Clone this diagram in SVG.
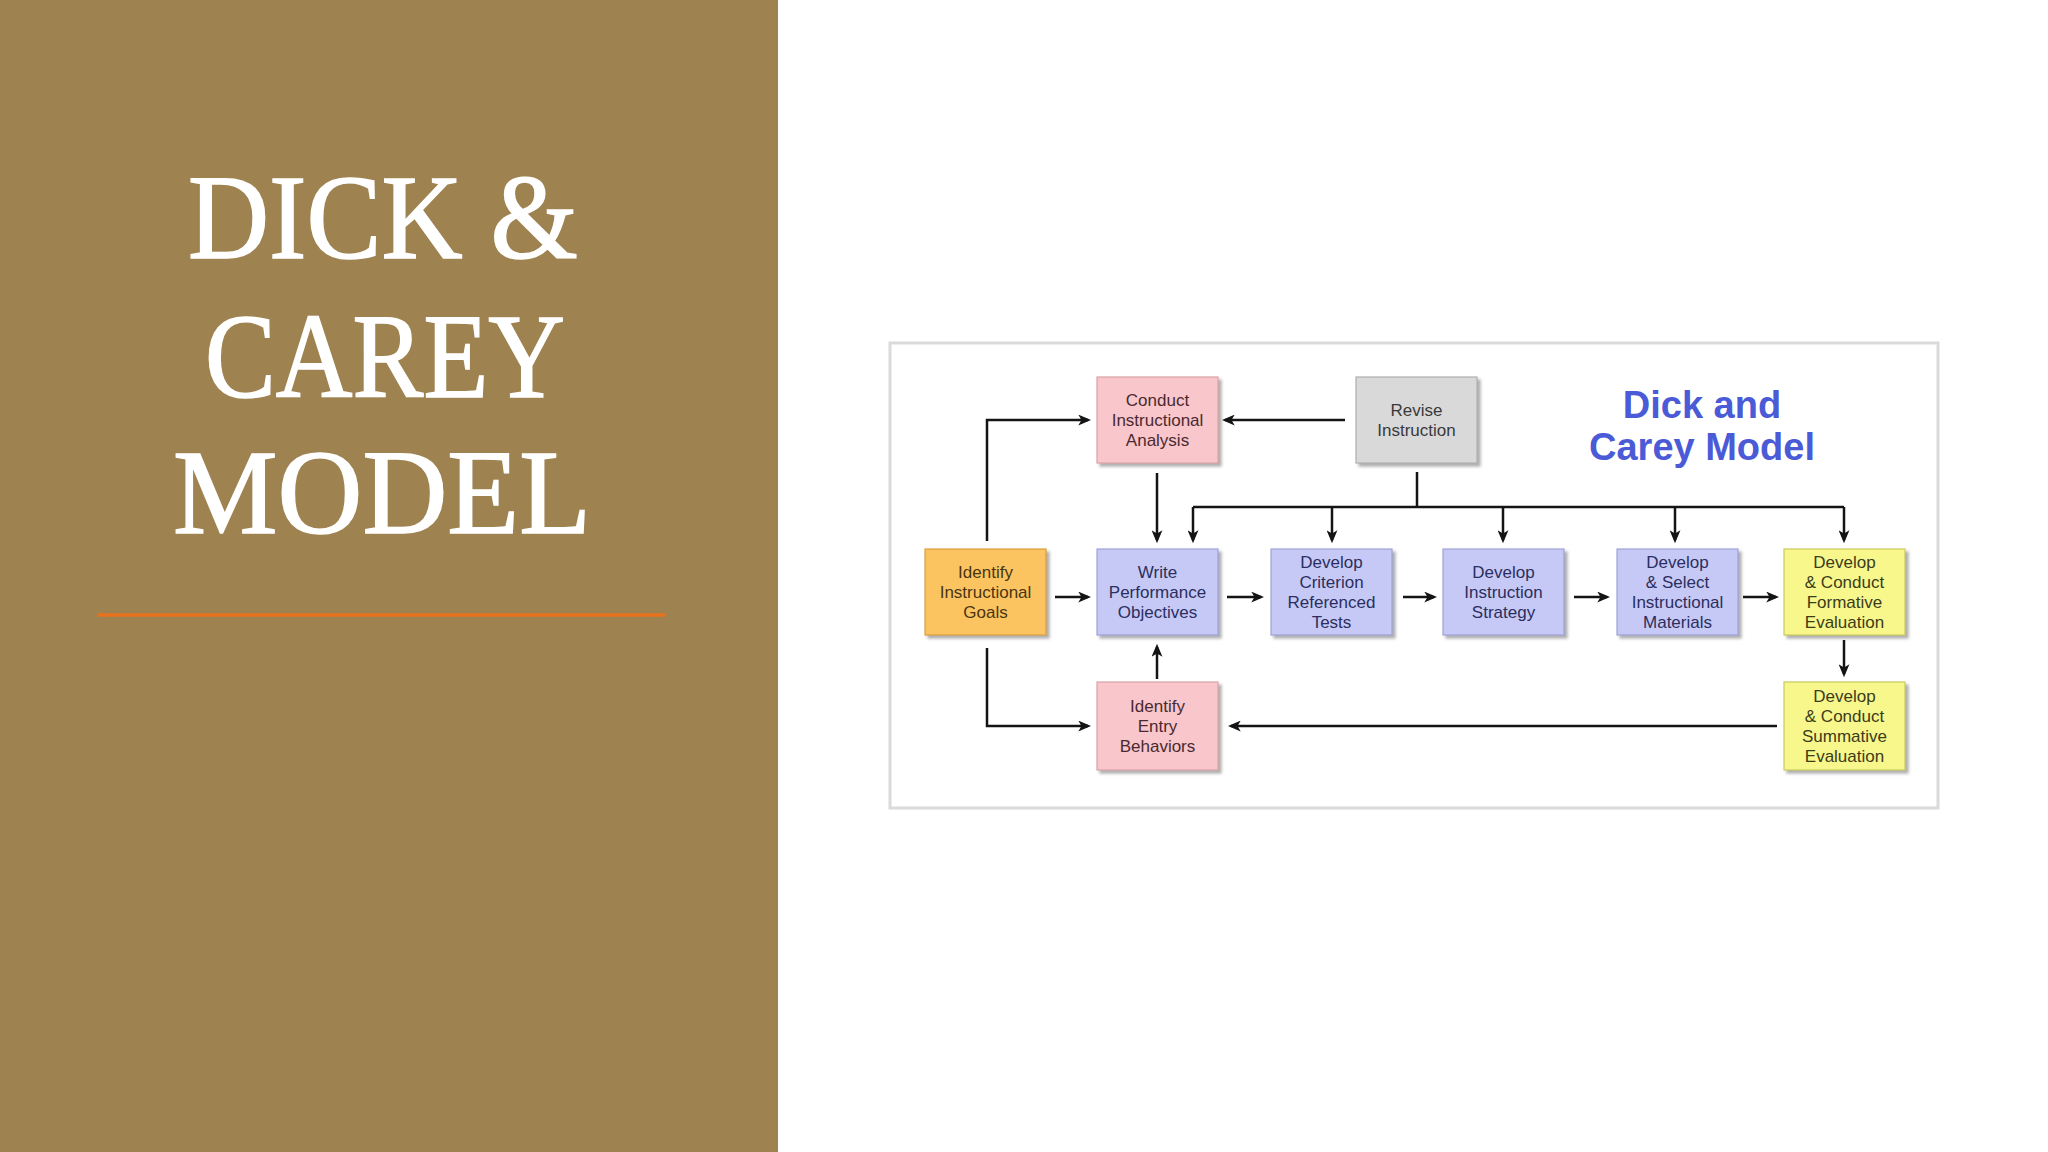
<svg xmlns="http://www.w3.org/2000/svg" width="2048" height="1152" viewBox="0 0 2048 1152">
<defs>
<style>
.title{font-family:"Liberation Serif","DejaVu Serif",serif;font-size:120px;fill:#ffffff;stroke:#ffffff;stroke-width:1.6;text-anchor:middle}
.lbl{font-family:"Liberation Sans",Arial,sans-serif;font-size:17px;text-anchor:middle}
.hd{font-family:"Liberation Sans",Arial,sans-serif;font-size:38px;font-weight:bold;fill:#4B5AD6;text-anchor:middle}
.box{stroke-width:1.2;filter:url(#sh)}
.pink{fill:#F8C6CB;stroke:#D9A3A9}
.pink-t{fill:#4A2A30}
.blue{fill:#C6C9F6;stroke:#9EA2D6}
.blue-t{fill:#2B2E5E}
.orange{fill:#FBC460;stroke:#D8A03E}
.orange-t{fill:#4A3512}
.yellow{fill:#F7F78C;stroke:#C9C95E}
.yellow-t{fill:#3C3C18}
.gray{fill:#D9D9D9;stroke:#AFAFAF}
.gray-t{fill:#3A3A3A}
.conn path{fill:none;stroke:#141414;stroke-width:2.5}
.arr{marker-end:url(#ah)}
</style>
<filter id="sh" x="-10%" y="-10%" width="130%" height="130%">
<feDropShadow dx="3" dy="3" stdDeviation="1.5" flood-color="#777777" flood-opacity="0.6"/>
</filter>
<marker id="ah" viewBox="0 0 12 10" markerWidth="13" markerHeight="11" refX="9" refY="5" orient="auto" markerUnits="userSpaceOnUse">
<path d="M0,0 L12,5 L0,10 L3,5 Z" fill="#141414"/>
</marker>
</defs>
<rect x="0" y="0" width="2048" height="1152" fill="#ffffff"/>
<g id="left-panel">
<rect x="0" y="0" width="778" height="1152" fill="#9E8250"/>
<text class="title" x="383" y="258" textLength="390" lengthAdjust="spacingAndGlyphs">DICK &amp;</text>
<text class="title" x="385" y="397" textLength="360" lengthAdjust="spacingAndGlyphs">CAREY</text>
<text class="title" x="382" y="533" textLength="418" lengthAdjust="spacingAndGlyphs">MODEL</text>
<line x1="98" y1="615" x2="666" y2="615" stroke="#E8721E" stroke-width="3.5"/>
</g>
<g id="frame">
<rect x="890" y="343" width="1048" height="465" fill="#ffffff" stroke="#DADADA" stroke-width="3"/>
</g>
<g id="heading">
<text class="hd" x="1702" y="418">Dick and</text>
<text class="hd" x="1702" y="460">Carey Model</text>
</g>
<g class="conn" id="connectors">
<path class="arr" d="M1345,420 L1225,420"/>
<path class="arr" d="M987,541 L987,420 L1088,420"/>
<path class="arr" d="M987,648 L987,726 L1088,726"/>
<path class="arr" d="M1157,473 L1157,540"/>
<path d="M1417,472 L1417,507"/>
<path d="M1193,507 L1844,507"/>
<path class="arr" d="M1193,507 L1193,540"/>
<path class="arr" d="M1332,507 L1332,540"/>
<path class="arr" d="M1503,507 L1503,540"/>
<path class="arr" d="M1675,507 L1675,540"/>
<path class="arr" d="M1844,507 L1844,540"/>
<path class="arr" d="M1055,597 L1088,597"/>
<path class="arr" d="M1227,597 L1261,597"/>
<path class="arr" d="M1403,597 L1434,597"/>
<path class="arr" d="M1574,597 L1607,597"/>
<path class="arr" d="M1743,597 L1776,597"/>
<path class="arr" d="M1844,640 L1844,674"/>
<path class="arr" d="M1157,679 L1157,647"/>
<path class="arr" d="M1777,726 L1231,726"/>
</g>
<g id="conduct">
<rect class="box pink" x="1097" y="377" width="121" height="86"/>
<text class="lbl pink-t" x="1157.5" y="406">Conduct</text>
<text class="lbl pink-t" x="1157.5" y="426">Instructional</text>
<text class="lbl pink-t" x="1157.5" y="446">Analysis</text>
</g>
<g id="revise">
<rect class="box gray" x="1356" y="377" width="121" height="86"/>
<text class="lbl gray-t" x="1416.5" y="416">Revise</text>
<text class="lbl gray-t" x="1416.5" y="436">Instruction</text>
</g>
<g id="goals">
<rect class="box orange" x="925" y="549" width="121" height="86"/>
<text class="lbl orange-t" x="985.5" y="578">Identify</text>
<text class="lbl orange-t" x="985.5" y="598">Instructional</text>
<text class="lbl orange-t" x="985.5" y="618">Goals</text>
</g>
<g id="write">
<rect class="box blue" x="1097" y="549" width="121" height="86"/>
<text class="lbl blue-t" x="1157.5" y="578">Write</text>
<text class="lbl blue-t" x="1157.5" y="598">Performance</text>
<text class="lbl blue-t" x="1157.5" y="618">Objectives</text>
</g>
<g id="criterion">
<rect class="box blue" x="1271" y="549" width="121" height="86"/>
<text class="lbl blue-t" x="1331.5" y="568">Develop</text>
<text class="lbl blue-t" x="1331.5" y="588">Criterion</text>
<text class="lbl blue-t" x="1331.5" y="608">Referenced</text>
<text class="lbl blue-t" x="1331.5" y="628">Tests</text>
</g>
<g id="strategy">
<rect class="box blue" x="1443" y="549" width="121" height="86"/>
<text class="lbl blue-t" x="1503.5" y="578">Develop</text>
<text class="lbl blue-t" x="1503.5" y="598">Instruction</text>
<text class="lbl blue-t" x="1503.5" y="618">Strategy</text>
</g>
<g id="materials">
<rect class="box blue" x="1617" y="549" width="121" height="86"/>
<text class="lbl blue-t" x="1677.5" y="568">Develop</text>
<text class="lbl blue-t" x="1677.5" y="588">&amp; Select</text>
<text class="lbl blue-t" x="1677.5" y="608">Instructional</text>
<text class="lbl blue-t" x="1677.5" y="628">Materials</text>
</g>
<g id="formative">
<rect class="box yellow" x="1784" y="549" width="121" height="86"/>
<text class="lbl yellow-t" x="1844.5" y="568">Develop</text>
<text class="lbl yellow-t" x="1844.5" y="588">&amp; Conduct</text>
<text class="lbl yellow-t" x="1844.5" y="608">Formative</text>
<text class="lbl yellow-t" x="1844.5" y="628">Evaluation</text>
</g>
<g id="entry">
<rect class="box pink" x="1097" y="682" width="121" height="88"/>
<text class="lbl pink-t" x="1157.5" y="712">Identify</text>
<text class="lbl pink-t" x="1157.5" y="732">Entry</text>
<text class="lbl pink-t" x="1157.5" y="752">Behaviors</text>
</g>
<g id="summative">
<rect class="box yellow" x="1784" y="682" width="121" height="88"/>
<text class="lbl yellow-t" x="1844.5" y="702">Develop</text>
<text class="lbl yellow-t" x="1844.5" y="722">&amp; Conduct</text>
<text class="lbl yellow-t" x="1844.5" y="742">Summative</text>
<text class="lbl yellow-t" x="1844.5" y="762">Evaluation</text>
</g>
</svg>
